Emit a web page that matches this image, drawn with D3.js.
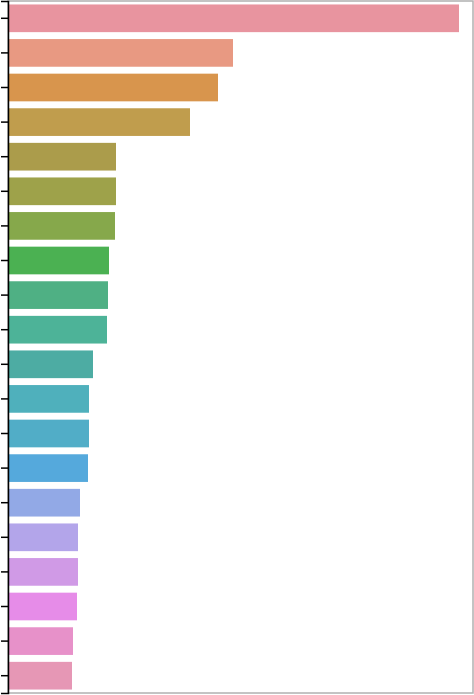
<!DOCTYPE html>
<html><head><meta charset="utf-8">
<script src="https://cdn.jsdelivr.net/npm/d3@7"></script>
<style>body{margin:0;background:#fff}</style>
</head><body>
<svg id="chart" width="474" height="695"></svg>
<script>
const categories = d3.range(20).map(i => 'c' + i);
const values = [451, 225, 210, 182, 108, 108, 107, 101, 100, 99, 85, 81, 81, 80, 72, 70, 70, 69, 65, 64];
const colors = ['#e8949f', '#e89982', '#d8954d', '#c09d4d', '#ab9c4b', '#9ea24a', '#86a84b', '#4bb152',
  '#4fb084', '#4db398', '#4daca3', '#4fb0bc', '#51adc7', '#55a9dc', '#92a9e6', '#b3a5ea',
  '#d09ae6', '#e68ce8', '#e791c9', '#e697b5'];

const svg = d3.select('svg#chart');
const mLeft = 8, mTop = 1, mRight = 473, mBottom = 693;

const x = d3.scaleLinear().domain([0, 465]).range([mLeft, mRight]);
const y = d3.scaleBand().domain(categories).range([mTop, mBottom]).paddingInner(0.2).paddingOuter(0.1);

// frame
svg.append('rect')
  .attr('x', mLeft).attr('y', mTop)
  .attr('width', mRight - mLeft).attr('height', mBottom - mTop)
  .attr('fill', 'none').attr('stroke', '#b0b0b0').attr('stroke-width', 1.5);

svg.selectAll('rect.bar')
  .data(values)
  .join('rect')
  .attr('class', 'bar')
  .attr('x', x(0))
  .attr('y', (d, i) => y(categories[i]))
  .attr('width', d => x(d) - x(0))
  .attr('height', y.bandwidth())
  .attr('fill', (d, i) => colors[i]);

const yAxis = svg.append('g')
  .attr('transform', `translate(${mLeft},0)`)
  .call(d3.axisLeft(y).tickSize(7).tickFormat(''));
yAxis.select('.domain').attr('stroke', '#000').attr('stroke-width', 1.5);
yAxis.selectAll('.tick line').attr('stroke', '#000').attr('stroke-width', 1.5);
</script>
</body></html>
